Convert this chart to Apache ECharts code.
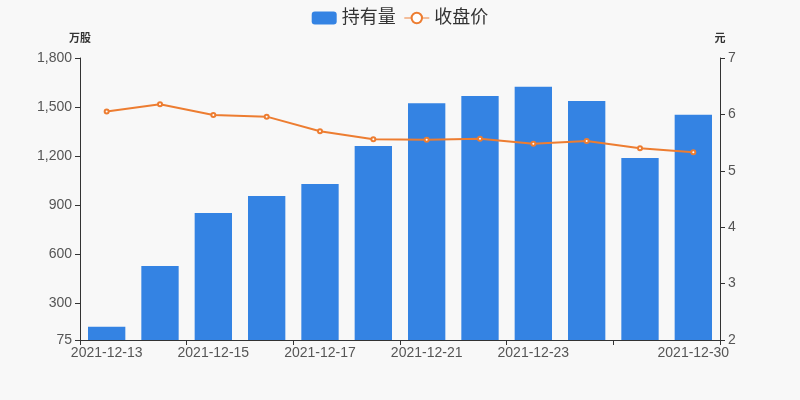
<!DOCTYPE html>
<html>
<head>
<meta charset="utf-8">
<script src="https://cdn.jsdelivr.net/npm/echarts@6/dist/echarts.min.js"></script>
<style>
  html, body { margin: 0; padding: 0; background: #f8f8f8; }
  #chart { width: 800px; height: 400px; }
</style>
</head>
<body>
<div id="chart"></div>
<script>
// 日期
const dates = ['2021-12-13', '2021-12-14', '2021-12-15', '2021-12-16', '2021-12-17', '2021-12-20',
  '2021-12-21', '2021-12-22', '2021-12-23', '2021-12-24', '2021-12-29', '2021-12-30'];
// 持有量 (万股)
const holdings = [156, 528, 852, 956, 1029, 1262, 1523, 1568, 1624, 1537, 1188, 1453];
// 收盘价 (元)
const closePrice = [6.05, 6.18, 5.99, 5.96, 5.70, 5.56, 5.55, 5.57, 5.48, 5.53, 5.40, 5.33];

const chart = echarts.init(document.getElementById('chart'));
const labelColor = '#555';

chart.setOption({
  backgroundColor: '#f8f8f8',
  textStyle: { fontFamily: 'Liberation Sans, Noto Sans CJK SC, sans-serif' },
  legend: {
    top: 4,
    left: 'center',
    itemWidth: 25,
    itemHeight: 13,
    itemGap: 8,
    textStyle: { fontSize: 18, color: '#333' },
    data: [
      '持有量',
      { name: '收盘价', itemStyle: { borderWidth: 1, borderColor: '#f0955a' }, lineStyle: { width: 1.2, color: '#f0955a' } }
    ]
  },
  grid: { left: 80, right: 80, top: 58, bottom: 60 },
  xAxis: {
    type: 'category',
    data: dates,
    boundaryGap: true,
    axisLine: { lineStyle: { color: '#333' } },
    axisTick: { show: true, interval: 1, length: 5, lineStyle: { color: '#333' } },
    axisLabel: {
      color: labelColor,
      fontSize: 14,
      margin: 6,
      interval: function (i) { return (i % 2 === 0 && i !== 10) || i === 11; }
    }
  },
  yAxis: [
    {
      type: 'value',
      name: '万股',
      min: 75,
      max: 1800,
      nameGap: 14,
      nameTextStyle: { fontWeight: 'bold', fontSize: 11, color: '#333', align: 'center' },
      splitLine: { show: false },
      axisLine: { show: true, lineStyle: { color: '#333' } },
      axisTick: { show: true, length: 5 },
      axisLabel: { color: labelColor, fontSize: 14, margin: 8 }
    },
    {
      type: 'value',
      name: '元',
      min: 2,
      max: 7,
      interval: 1,
      nameGap: 14,
      nameTextStyle: { fontWeight: 'bold', fontSize: 11, color: '#333', align: 'center' },
      splitLine: { show: false },
      axisLine: { show: true, lineStyle: { color: '#333' } },
      axisTick: { show: true, length: 5 },
      axisLabel: { color: labelColor, fontSize: 14, margin: 8 }
    }
  ],
  series: [
    {
      name: '持有量',
      type: 'bar',
      data: holdings,
      barWidth: '70%',
      itemStyle: { color: '#3483e3' }
    },
    {
      name: '收盘价',
      type: 'line',
      yAxisIndex: 1,
      data: closePrice,
      symbol: 'emptyCircle',
      symbolSize: 4,
      itemStyle: { color: '#ed7d31', borderWidth: 1 },
      lineStyle: { width: 2, color: '#ed7d31' }
    }
  ]
});
</script>
</body>
</html>
